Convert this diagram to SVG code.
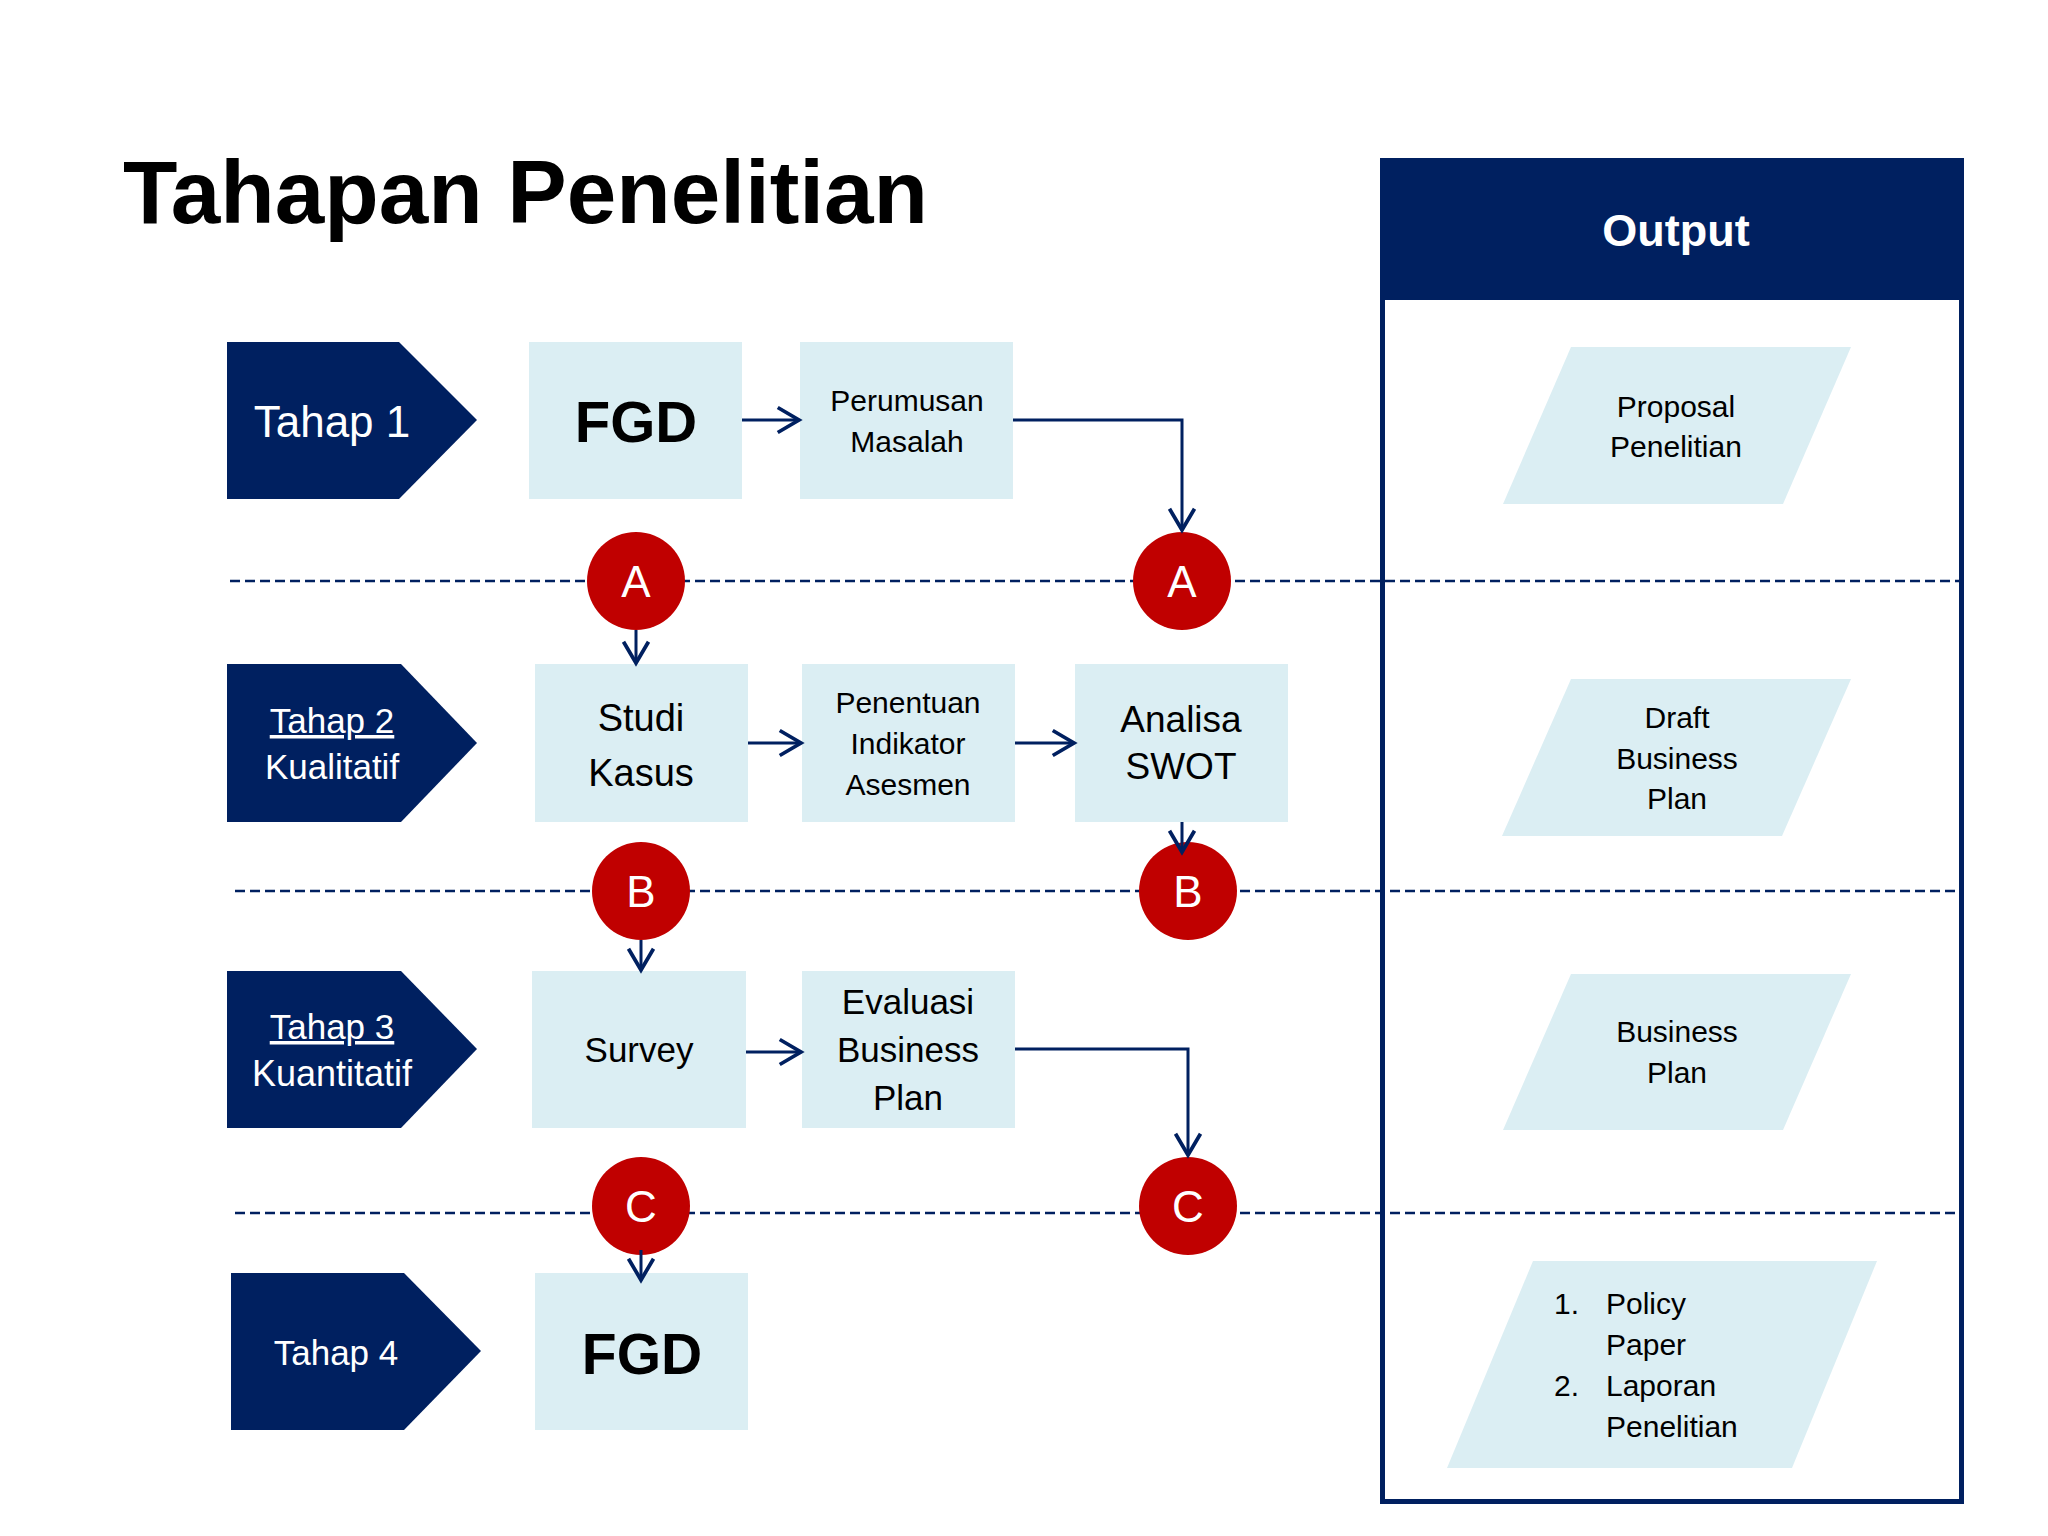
<svg xmlns="http://www.w3.org/2000/svg" width="2048" height="1536" viewBox="0 0 2048 1536">
<style>
.stage{fill:#002060}
.box{fill:#DBEEF3}
.circ{fill:#C00000}
.dash{stroke:#002060;stroke-width:2.6;stroke-dasharray:10 5;fill:none}
.conn{stroke:#002060;stroke-width:3;fill:none}
text{font-family:"Liberation Sans",Arial,sans-serif}
.w{fill:#FFFFFF}
.k{fill:#000000}
.mid{text-anchor:middle}
.b{font-weight:bold}
</style>
<defs>
<marker id="arr" markerUnits="userSpaceOnUse" markerWidth="30" markerHeight="30" viewBox="-20 -12 24 24" refX="0" refY="0" orient="auto">
<path d="M-17,-10 L0,0 L-17,10" fill="none" stroke="#002060" stroke-width="3"/>
</marker>
</defs>
<rect width="2048" height="1536" fill="#FFFFFF"/>

<text id="title" x="123" y="223" class="k b" font-size="89" textLength="805" lengthAdjust="spacingAndGlyphs">Tahapan Penelitian</text>

<g id="output-panel">
<rect x="1380" y="158" width="584" height="142" class="stage"/>
<rect x="1382.5" y="160.5" width="579" height="1341" fill="none" stroke="#002060" stroke-width="5"/>
<text x="1676" y="246" class="w b mid" font-size="45">Output</text>
</g>

<g id="separators">
<line x1="230" y1="581" x2="1960" y2="581" class="dash"/>
<line x1="235" y1="891" x2="1960" y2="891" class="dash"/>
<line x1="235" y1="1213" x2="1960" y2="1213" class="dash"/>
</g>

<g id="tahap1">
<path d="M227,342 H399 L477,420 L399,499 H227 Z" class="stage"/>
<text x="332" y="437" class="w mid" font-size="44">Tahap 1</text>
</g>
<g id="tahap2">
<path d="M227,664 H401 L477,743 L401,822 H227 Z" class="stage"/>
<text x="332" y="733" class="w mid" font-size="35" text-decoration="underline">Tahap 2</text>
<text x="332" y="779" class="w mid" font-size="35">Kualitatif</text>
</g>
<g id="tahap3">
<path d="M227,971 H401 L477,1049 L401,1128 H227 Z" class="stage"/>
<text x="332" y="1039" class="w mid" font-size="35" text-decoration="underline">Tahap 3</text>
<text x="332" y="1086" class="w mid" font-size="36">Kuantitatif</text>
</g>
<g id="tahap4">
<path d="M231,1273 H404 L481,1351 L404,1430 H231 Z" class="stage"/>
<text x="336" y="1365" class="w mid" font-size="35">Tahap 4</text>
</g>

<g id="fgd1">
<rect x="529" y="342" width="213" height="157" class="box"/>
<text x="636" y="442" class="k b mid" font-size="58">FGD</text>
</g>
<g id="perumusan">
<rect x="800" y="342" width="213" height="157" class="box"/>
<text x="907" y="411" class="k mid" font-size="30">Perumusan</text>
<text x="907" y="452" class="k mid" font-size="30">Masalah</text>
</g>
<g id="studi-kasus">
<rect x="535" y="664" width="213" height="158" class="box"/>
<text x="641" y="731" class="k mid" font-size="38">Studi</text>
<text x="641" y="786" class="k mid" font-size="38">Kasus</text>
</g>
<g id="penentuan">
<rect x="802" y="664" width="213" height="158" class="box"/>
<text x="908" y="713" class="k mid" font-size="30">Penentuan</text>
<text x="908" y="754" class="k mid" font-size="30">Indikator</text>
<text x="908" y="795" class="k mid" font-size="30">Asesmen</text>
</g>
<g id="analisa-swot">
<rect x="1075" y="664" width="213" height="158" class="box"/>
<text x="1181" y="732" class="k mid" font-size="37">Analisa</text>
<text x="1181" y="779" class="k mid" font-size="37">SWOT</text>
</g>
<g id="survey">
<rect x="532" y="971" width="214" height="157" class="box"/>
<text x="639" y="1062" class="k mid" font-size="35">Survey</text>
</g>
<g id="evaluasi">
<rect x="802" y="971" width="213" height="157" class="box"/>
<text x="908" y="1014" class="k mid" font-size="35">Evaluasi</text>
<text x="908" y="1062" class="k mid" font-size="35">Business</text>
<text x="908" y="1110" class="k mid" font-size="35">Plan</text>
</g>
<g id="fgd2">
<rect x="535" y="1273" width="213" height="157" class="box"/>
<text x="642" y="1374" class="k b mid" font-size="57">FGD</text>
</g>

<g id="connector-A-left"><circle cx="636" cy="581" r="49" class="circ"/><text x="636" y="597" class="w mid" font-size="44">A</text></g>
<g id="connector-A-right"><circle cx="1182" cy="581" r="49" class="circ"/><text x="1182" y="597" class="w mid" font-size="44">A</text></g>
<g id="connector-B-left"><circle cx="641" cy="891" r="49" class="circ"/><text x="641" y="907" class="w mid" font-size="44">B</text></g>
<g id="connector-B-right"><circle cx="1188" cy="891" r="49" class="circ"/><text x="1188" y="907" class="w mid" font-size="44">B</text></g>
<g id="connector-C-left"><circle cx="641" cy="1206" r="49" class="circ"/><text x="641" y="1222" class="w mid" font-size="44">C</text></g>
<g id="connector-C-right"><circle cx="1188" cy="1206" r="49" class="circ"/><text x="1188" y="1222" class="w mid" font-size="44">C</text></g>

<g id="out-proposal">
<polygon points="1571,347 1851,347 1783,504 1503,504" class="box"/>
<text x="1676" y="417" class="k mid" font-size="30">Proposal</text>
<text x="1676" y="457" class="k mid" font-size="30">Penelitian</text>
</g>
<g id="out-draft">
<polygon points="1571,679 1851,679 1782,836 1502,836" class="box"/>
<text x="1677" y="728" class="k mid" font-size="30">Draft</text>
<text x="1677" y="769" class="k mid" font-size="30">Business</text>
<text x="1677" y="809" class="k mid" font-size="30">Plan</text>
</g>
<g id="out-business-plan">
<polygon points="1571,974 1851,974 1783,1130 1503,1130" class="box"/>
<text x="1677" y="1042" class="k mid" font-size="30">Business</text>
<text x="1677" y="1083" class="k mid" font-size="30">Plan</text>
</g>
<g id="out-policy">
<polygon points="1533,1261 1877,1261 1792,1468 1447,1468" class="box"/>
<text x="1554" y="1314" class="k" font-size="30">1.</text>
<text x="1606" y="1314" class="k" font-size="30">Policy</text>
<text x="1606" y="1355" class="k" font-size="30">Paper</text>
<text x="1554" y="1396" class="k" font-size="30">2.</text>
<text x="1606" y="1396" class="k" font-size="30">Laporan</text>
<text x="1606" y="1437" class="k" font-size="30">Penelitian</text>
</g>

<g id="connectors">
<path d="M742,420 H799" class="conn" marker-end="url(#arr)"/>
<path d="M1013,420 H1182 V530" class="conn" marker-end="url(#arr)"/>
<path d="M636,630 V663" class="conn" marker-end="url(#arr)"/>
<path d="M748,743 H801" class="conn" marker-end="url(#arr)"/>
<path d="M1015,743 H1074" class="conn" marker-end="url(#arr)"/>
<path d="M1182,822 V852" class="conn" marker-end="url(#arr)"/>
<path d="M641,940 V970" class="conn" marker-end="url(#arr)"/>
<path d="M746,1052 H801" class="conn" marker-end="url(#arr)"/>
<path d="M1015,1049 H1188 V1155" class="conn" marker-end="url(#arr)"/>
<path d="M641,1250 V1280" class="conn" marker-end="url(#arr)"/>
</g>
</svg>
